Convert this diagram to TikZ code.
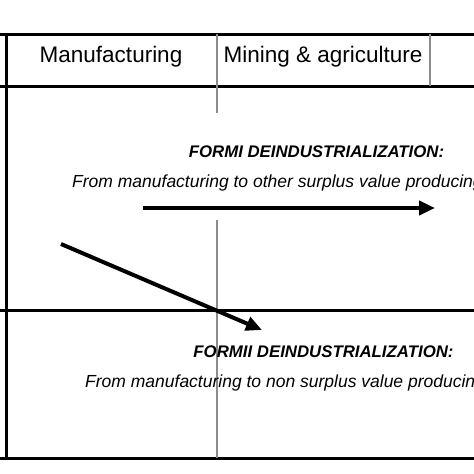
\documentclass[tikz,border=0pt]{standalone}
\usepackage{fontspec}
\setmainfont{Liberation Sans}
\usetikzlibrary{arrows.meta, positioning}
\definecolor{gridgray}{RGB}{140,140,140}

\begin{document}
\begin{tikzpicture}[x=1pt, y=-1pt,
  frame/.style={line width=3pt, black},
  divider/.style={line width=1.5pt, gridgray},
  shiftarrow/.style={line width=4pt, -{Triangle[length=16pt,width=14pt]}},
  colhead/.style={font=\fontsize{22.5}{27}\selectfont, inner sep=0pt},
  formtitle/.style={font=\fontsize{16.8}{20}\selectfont\bfseries\itshape, inner sep=0pt},
  formtext/.style={font=\fontsize{17.5}{21}\selectfont\itshape, anchor=west, inner sep=0pt}]
  \useasboundingbox (0,0) rectangle (474,474);
  \clip (0,0) rectangle (474,474);
  % table frame
  \draw[frame] (0,34) -- (474,34);
  \draw[frame] (0,86) -- (474,86);
  \draw[frame] (0,310) -- (474,310);
  \draw[frame] (0,458) -- (474,458);
  \draw[frame] (6,34) -- (6,458);
  % column dividers
  \draw[divider] (217,34) -- (217,113);
  \draw[divider] (217,220) -- (217,458);
  \draw[divider] (430,34) -- (430,86);
  % headers
  \node[colhead] (manu) at (111,57) {Manufacturing};
  \node[colhead] (mining) at (323,57) {Mining \& agriculture};
  % form I
  \node[formtitle] (formone) at (316.5,152) {FORMI DEINDUSTRIALIZATION:};
  \node[formtext] (formonetext) at (72,183) {From manufacturing to other surplus value producing sectors};
  % form II
  \node[formtitle] (formtwo) at (323.5,352) {FORMII DEINDUSTRIALIZATION:};
  \node[formtext] (formtwotext) at (85,383) {From manufacturing to non surplus value producing sectors};
  % shifts
  \coordinate (onestart) at (143,208);
  \coordinate (oneend) at (435,208);
  \coordinate (twostart) at (61,244);
  \coordinate (twoend) at (262,330);
  \draw[shiftarrow] (onestart) -- (oneend);
  \draw[shiftarrow] (twostart) -- (twoend);
\end{tikzpicture}
\end{document}
